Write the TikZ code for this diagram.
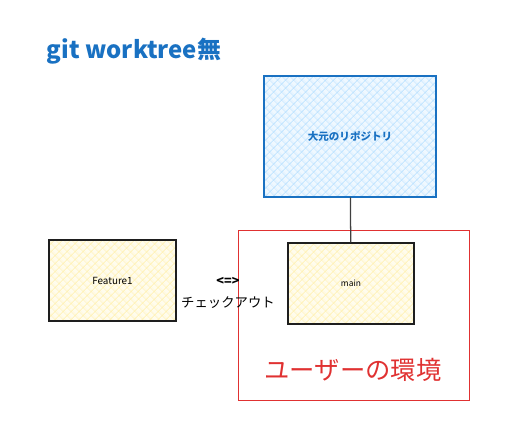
\documentclass[tikz,border=0pt]{standalone}
\usepackage{fontspec}
\setmainfont{Noto Sans CJK JP}
\usetikzlibrary{positioning,patterns.meta}
\definecolor{skblue}{HTML}{1971C2}
\definecolor{skred}{HTML}{E03131}
\definecolor{skink}{HTML}{1E1E1E}
\definecolor{skyellow}{HTML}{FFEC99}
\definecolor{skcyan}{HTML}{A5D8FF}

\begin{document}
\begin{tikzpicture}[x=0.025cm,y=-0.025cm]
    \useasboundingbox (0,0) rectangle (506,438);
    \tikzset{
        hatchbox/.style={rectangle, draw, line width=0.8pt, inner sep=0pt,
            preaction={fill=#1!18}, pattern={Hatch[angle=45,distance=4pt,line width=0.5pt]}, pattern color=#1!80}
    }
    \node[anchor=west, text=skblue, font=\fontsize{17}{17}\selectfont\bfseries] (title) at (42,51) {git worktree無};
    \node[draw=skred, line width=0.7pt, minimum width=5.75cm, minimum height=4.225cm] (env) at (354,315.5) {};
    \node[text=skred, font=\fontsize{18}{18}\selectfont] (envlabel) at (353,370) {ユーザーの環境};
    \node[hatchbox=skcyan, draw=skblue, minimum width=4.3cm, minimum height=3.025cm, text=skblue, font=\fontsize{7.5}{7.5}\selectfont\bfseries] (repo) at (350,136.5) {大元のリポジトリ};
    \node[hatchbox=skyellow, draw=skink, minimum width=3.15cm, minimum height=2.025cm, font=\fontsize{6}{6}\selectfont] (main) at (351,283.5) {main};
    \node[hatchbox=skyellow, draw=skink, minimum width=3.175cm, minimum height=2.025cm, font=\fontsize{7}{7}\selectfont] (feature) at (112.5,280.5) {Feature1};
    \node[font=\fontsize{9}{9}\selectfont\bfseries] (swap) at (228,281) {<=>};
    \node[font=\fontsize{9.5}{9.5}\selectfont, below=0.05cm of swap] (checkout) {チェックアウト};

    \draw[skink!85, line width=0.9pt] (repo) -- (main);
\end{tikzpicture}
\end{document}
